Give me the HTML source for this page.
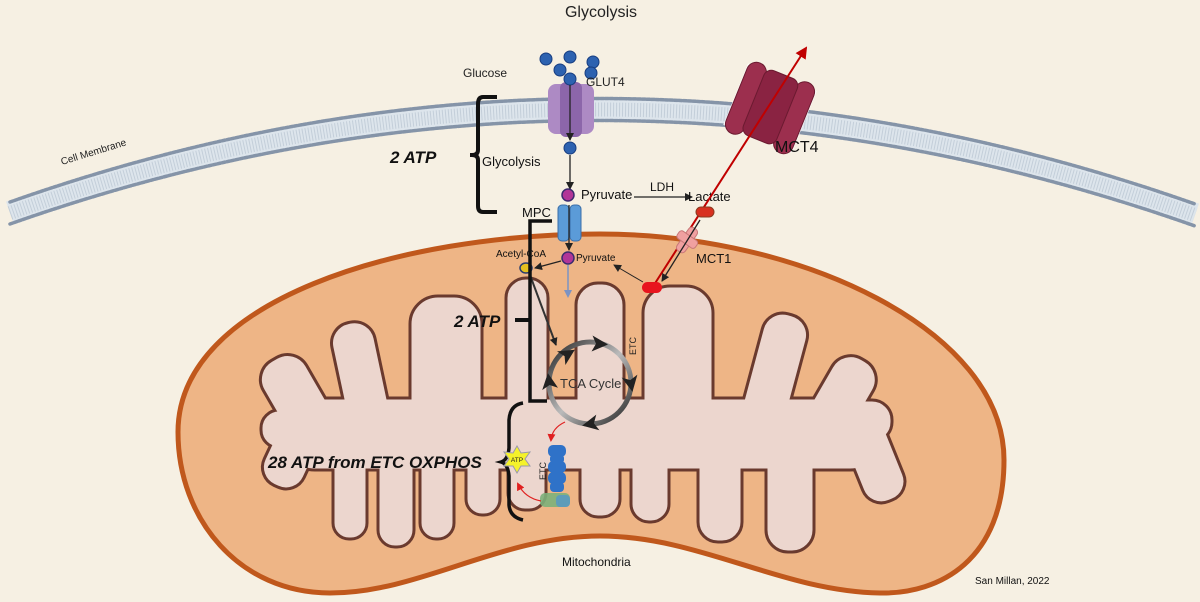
<!DOCTYPE html>
<html><head><meta charset="utf-8"><style>
html,body{margin:0;padding:0;background:#f6f0e3;}
svg{display:block;font-family:"Liberation Sans",sans-serif;}
</style></head><body>
<svg width="1200" height="602" viewBox="0 0 1200 602" xmlns="http://www.w3.org/2000/svg">
<defs>
<marker id="ah" markerWidth="8" markerHeight="8" refX="7" refY="4" orient="auto" markerUnits="userSpaceOnUse"><path d="M0,0 L8,4 L0,8 Z" fill="#222"/></marker>
<marker id="ahr" markerWidth="12" markerHeight="12" refX="10" refY="6" orient="auto" markerUnits="userSpaceOnUse"><path d="M0,0 L12,6 L0,12 Z" fill="#c00000"/></marker>
<marker id="ahs" markerWidth="8" markerHeight="8" refX="6" refY="4" orient="auto" markerUnits="userSpaceOnUse"><path d="M0,0 L8,4 L0,8 Z" fill="#e02020"/></marker>
<marker id="ahb" markerWidth="8" markerHeight="8" refX="6" refY="4" orient="auto" markerUnits="userSpaceOnUse"><path d="M0,0 L8,4 L0,8 Z" fill="#7b93c4"/></marker>
<marker id="aht" markerWidth="16" markerHeight="16" refX="8" refY="8" orient="auto" markerUnits="userSpaceOnUse"><path d="M0,0 L16,8 L0,16 L4,8 Z" fill="#222"/></marker>
<linearGradient id="tg" x1="0" y1="0" x2="1" y2="1"><stop offset="0" stop-color="#222"/><stop offset="0.5" stop-color="#bbb"/><stop offset="1" stop-color="#222"/></linearGradient>
</defs>

<!-- membrane -->
<path d="M10,213 Q600,5 1195,215" fill="none" stroke="#dde5ec" stroke-width="24"/>
<path d="M10,213 Q600,5 1195,215" fill="none" stroke="#c3ced9" stroke-width="14" stroke-dasharray="1 2"/>
<path d="M10,202 Q600,-6 1195,204" fill="none" stroke="#8594a8" stroke-width="3.5" stroke-dasharray="3 1.6" stroke-linecap="round"/>
<path d="M10,224 Q600,16 1195,226" fill="none" stroke="#8594a8" stroke-width="3.5" stroke-dasharray="3 1.6" stroke-linecap="round"/>
<text x="62" y="165" font-size="10" fill="#222" transform="rotate(-17 62 165)">Cell Membrane</text>

<text x="601" y="17" font-size="16" fill="#222" text-anchor="middle">Glycolysis</text>

<!-- mitochondrion outer -->
<path d="M178,432 C178,300 400,234 600,234 C800,234 1004,330 1004,460 C1004,560 940,594 880,593 C780,591 700,536 600,536 C500,536 420,593 330,593 C240,593 178,520 178,432 Z" fill="#eeb586" stroke="#c0581c" stroke-width="5"/>

<!-- inner membrane: stroke layer -->
<g fill="#6a3a2e" stroke="#6a3a2e" stroke-width="7" stroke-linejoin="round">
<g id="inner">
<rect x="285" y="400" width="595" height="68" rx="30"/>
<rect x="292" y="350" width="46" height="95" rx="20" transform="rotate(-30 315 430)"/>
<rect x="352" y="322" width="40" height="110" rx="19" transform="rotate(-12 372 430)"/>
<rect x="412" y="298" width="68" height="130" rx="26"/>
<rect x="508" y="280" width="38" height="150" rx="18"/>
<rect x="578" y="285" width="44" height="140" rx="20"/>
<rect x="645" y="288" width="66" height="140" rx="25"/>
<rect x="738" y="312" width="42" height="120" rx="19" transform="rotate(15 758 430)"/>
<rect x="798" y="350" width="44" height="90" rx="20" transform="rotate(30 820 435)"/>
<rect x="840" y="402" width="50" height="38" rx="18"/>
<rect x="263" y="412" width="60" height="34" rx="16"/>
<rect x="282" y="420" width="40" height="70" rx="18" transform="rotate(25 302 430)"/>
<rect x="335" y="430" width="30" height="107" rx="14"/>
<rect x="380" y="430" width="32" height="115" rx="15"/>
<rect x="422" y="430" width="30" height="107" rx="14"/>
<rect x="468" y="430" width="30" height="83" rx="14"/>
<rect x="510" y="430" width="34" height="78" rx="15"/>
<rect x="582" y="430" width="36" height="85" rx="16"/>
<rect x="633" y="430" width="34" height="90" rx="16"/>
<rect x="700" y="430" width="40" height="110" rx="18"/>
<rect x="768" y="430" width="44" height="120" rx="20"/>
<rect x="838" y="410" width="40" height="95" rx="18" transform="rotate(-22 858 420)"/>
</g>
</g>
<use href="#inner" fill="#ecd6ce" stroke="#ecd6ce" stroke-width="1"/>

<!-- GLUT4 -->
<g>
<rect x="548" y="84" width="22" height="50" rx="8" fill="#ad8ac4"/>
<rect x="572" y="84" width="22" height="50" rx="8" fill="#ad8ac4"/>
<rect x="560" y="82" width="22" height="55" rx="6" fill="#8c66aa"/>
</g>
<g fill="#2d62b0" stroke="#173d80" stroke-width="1">
<circle cx="546" cy="59" r="6"/><circle cx="570" cy="57" r="6"/><circle cx="593" cy="62" r="6"/>
<circle cx="560" cy="70" r="6"/><circle cx="591" cy="73" r="6"/><circle cx="570" cy="79" r="6"/>
<circle cx="570" cy="148" r="6"/>
</g>
<text x="463" y="77" font-size="12" fill="#222">Glucose</text>
<text x="586" y="86" font-size="12" fill="#222">GLUT4</text>
<line x1="570" y1="85" x2="570" y2="140" stroke="#222" stroke-width="1.3" marker-end="url(#ah)"/>
<line x1="570" y1="155" x2="570" y2="189" stroke="#222" stroke-width="1.3" marker-end="url(#ah)"/>
<circle cx="568" cy="195" r="6" fill="#b23598" stroke="#3b2b6e" stroke-width="1.5"/>
<text x="581" y="199" font-size="13" fill="#111">Pyruvate</text>
<line x1="634" y1="197" x2="692" y2="197" stroke="#222" stroke-width="1.2" marker-end="url(#ah)"/>
<text x="650" y="191" font-size="12" fill="#111">LDH</text>
<text x="688" y="201" font-size="13" fill="#111">Lactate</text>

<!-- MPC -->
<rect x="558" y="205" width="11" height="36" rx="4" fill="#5b9bd8" stroke="#3a6ea8"/>
<rect x="570" y="205" width="11" height="36" rx="4" fill="#5b9bd8" stroke="#3a6ea8"/>
<line x1="569" y1="205" x2="569" y2="250" stroke="#222" stroke-width="1.3" marker-end="url(#ah)"/>
<text x="522" y="217" font-size="13" fill="#111">MPC</text>
<circle cx="568" cy="258" r="6" fill="#b23598" stroke="#3b2b6e" stroke-width="1.5"/>
<text x="576" y="261" font-size="10" fill="#111">Pyruvate</text>
<text x="496" y="257" font-size="10" fill="#111">Acetyl-CoA</text>
<ellipse cx="526" cy="268" rx="6" ry="5" fill="#e5c020" stroke="#2b3d6e" stroke-width="1.5"/>
<line x1="561" y1="261" x2="535" y2="268" stroke="#222" stroke-width="1.2" marker-end="url(#ah)"/>
<line x1="568" y1="265" x2="568" y2="296" stroke="#7b93c4" stroke-width="1.5" marker-end="url(#ahb)"/>
<line x1="530" y1="275" x2="556" y2="345" stroke="#333" stroke-width="2" marker-end="url(#ah)"/>

<!-- MCT4 -->
<g transform="rotate(22 770 108)">
<rect x="733" y="75" width="74" height="66" fill="#fff"/>
<rect x="734" y="70" width="20" height="76" rx="10" fill="#9c2f4e" stroke="#6b1a30"/>
<rect x="786" y="70" width="20" height="76" rx="10" fill="#9c2f4e" stroke="#6b1a30"/>
<rect x="752" y="72" width="36" height="70" rx="8" fill="#8a2342" stroke="#6b1a30"/>
</g>
<text x="775" y="152" font-size="16" fill="#111">MCT4</text>
<line x1="652" y1="288" x2="806" y2="48" stroke="#c00000" stroke-width="2" marker-end="url(#ahr)"/>

<!-- lactate transporter pills -->
<rect x="696" y="207" width="18" height="10" rx="5" fill="#d83020" stroke="#8a3a20"/>
<g transform="rotate(35 687 240)">
<rect x="682" y="226" width="10" height="28" rx="4" fill="#f0a0a0" stroke="#c87878"/>
<rect x="676" y="235" width="22" height="9" rx="3" fill="#f0a0a0" stroke="#c87878"/>
</g>
<text x="696" y="263" font-size="13" fill="#111">MCT1</text>
<line x1="700" y1="220" x2="662" y2="281" stroke="#222" stroke-width="1.3" marker-end="url(#ah)"/>
<rect x="642" y="282" width="20" height="11" rx="5.5" fill="#e8141e"/>
<line x1="643" y1="282" x2="614" y2="265" stroke="#222" stroke-width="1" marker-end="url(#ah)"/>

<!-- TCA -->
<circle cx="590" cy="383" r="41" fill="none" stroke="url(#tg)" stroke-width="5"/>
<path d="M555,362 L568,354" fill="none" marker-end="url(#aht)"/>
<path d="M584,343 L600,344" fill="none" marker-end="url(#aht)"/>
<path d="M628,368 L631,384" fill="none" marker-end="url(#aht)"/>
<path d="M605,421 L590,424" fill="none" marker-end="url(#aht)"/>
<path d="M551,395 L549,381" fill="none" marker-end="url(#aht)"/>
<text x="560" y="388" font-size="13" fill="#333">TCA Cycle</text>
<text x="636" y="355" font-size="9" fill="#222" transform="rotate(-90 636 355)">ETC</text>

<!-- brackets -->
<path d="M497,97 L483,97 Q478,97 478,104 L478,150 Q478,155 472,155 Q478,155 478,160 L478,206 Q478,212 483,212 L497,212" fill="none" stroke="#111" stroke-width="4"/>
<line x1="470" y1="155" x2="478" y2="155" stroke="#111" stroke-width="4"/>
<text x="390" y="163" font-size="17" font-weight="bold" font-style="italic" fill="#111">2 ATP</text>
<text x="482" y="166" font-size="13" fill="#111">Glycolysis</text>
<path d="M552,221 L530,221 L530,401 L547,401" fill="none" stroke="#111" stroke-width="3.5"/>
<line x1="515" y1="320" x2="530" y2="320" stroke="#111" stroke-width="4"/>
<text x="454" y="327" font-size="17" font-weight="bold" font-style="italic" fill="#111">2 ATP</text>
<path d="M523,403 Q510,405 509,420 L509,448 Q508,460 501,462 Q508,464 509,476 L509,505 Q510,517 523,520" fill="none" stroke="#111" stroke-width="3.5"/>
<text x="268" y="468" font-size="17" font-weight="bold" font-style="italic" fill="#111">28 ATP from ETC OXPHOS</text>

<!-- ATP star -->
<polygon points="517,446 521,453 530,452 525,459 530,466 521,466 517,473 513,466 504,466 509,459 504,452 513,453" fill="#f5f22a" stroke="#99a" stroke-width="1"/>
<text x="517" y="462" font-size="6.5" fill="#222" text-anchor="middle">ATP</text>
<text x="546" y="480" font-size="9" fill="#222" transform="rotate(-90 546 480)">ETC</text>
<g fill="#2f72c8">
<rect x="548" y="445" width="18" height="12" rx="5"/>
<rect x="550" y="455" width="14" height="8" rx="3"/>
<rect x="548" y="461" width="18" height="12" rx="5"/>
<rect x="548" y="472" width="18" height="12" rx="5"/>
<rect x="550" y="482" width="14" height="10" rx="4"/>
</g>
<rect x="540" y="493" width="30" height="14" rx="5" fill="#7cb07a" opacity="0.9"/>
<rect x="556" y="495" width="14" height="12" rx="4" fill="#5a9ac0" opacity="0.9"/>
<path d="M565,422 Q552,428 551,440" fill="none" stroke="#e02020" stroke-width="1.2" marker-end="url(#ahs)"/>
<path d="M541,501 Q525,498 518,484" fill="none" stroke="#e02020" stroke-width="1.2" marker-end="url(#ahs)"/>

<text x="562" y="566" font-size="12" fill="#111">Mitochondria</text>
<text x="975" y="584" font-size="10" fill="#111">San Millan, 2022</text>
</svg>
</body></html>
